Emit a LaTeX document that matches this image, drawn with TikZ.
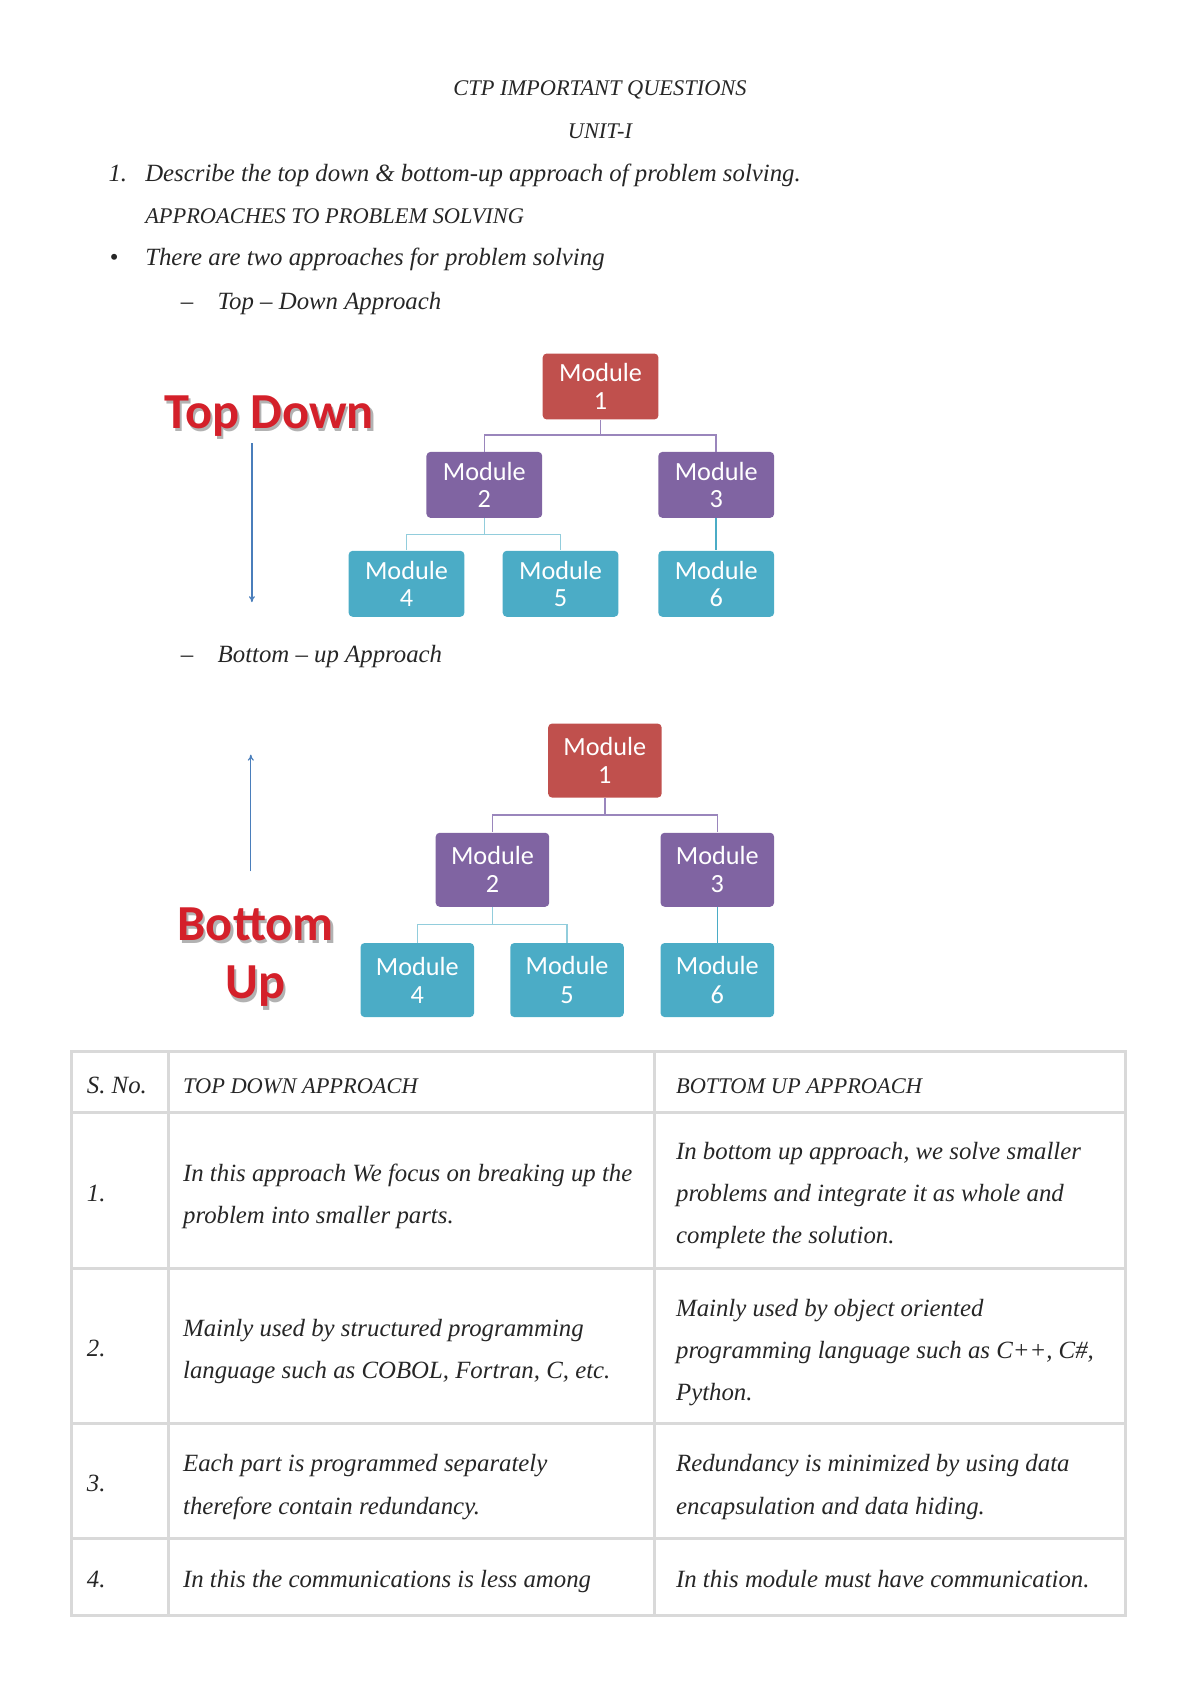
\documentclass[tikz,border=0pt]{standalone}
\usepackage{fontspec}
\setmainfont{Liberation Serif}
\newfontfamily\carlito{Carlito}
\usetikzlibrary{arrows.meta}
\definecolor{modred}{HTML}{C0504D}
\definecolor{modpurple}{HTML}{8064A2}
\definecolor{modcyan}{HTML}{4BACC6}
\definecolor{linkpurplec}{HTML}{9A86BC}
\definecolor{linkcyanc}{HTML}{92CDDC}
\definecolor{arrowblue}{HTML}{4A7EBB}
\definecolor{bigred}{HTML}{D4202A}
\definecolor{gridgray}{HTML}{D9D9D9}
\begin{document}
\begin{tikzpicture}[x=0.536pt,y=-0.536pt,
    doctext/.style={inner sep=0pt,text=black!85,font=\itshape\fontsize{12.3}{20.9}\selectfont},
    captext/.style={doctext,font=\itshape\fontsize{11.1}{20.9}\selectfont},
    modbox/.style={rounded corners=2pt,inner sep=0pt,align=center,text=white,
      minimum width=57.4pt,minimum height=32.7pt,font=\carlito\fontsize{13}{13.6}\selectfont},
    modboxb/.style={modbox,minimum width=56.3pt,minimum height=36.7pt,font=\carlito\fontsize{13}{14}\selectfont},
    bigword/.style={inner sep=0pt,text=bigred,font=\carlito\bfseries\fontsize{25}{29}\selectfont},
    linkpurple/.style={draw=linkpurplec,line width=0.8pt},
    linkcyan/.style={draw=linkcyanc,line width=0.8pt},
    linkcyandark/.style={draw=modcyan,line width=0.8pt},
    flowarrow/.style={draw=arrowblue,line width=0.6pt,-{To[length=3pt,width=3pt]}},
    tableline/.style={draw=gridgray,line width=1.5pt}]
    \useasboundingbox (0,0) rectangle (1110,1570.6);
    %% heading lines
    \node[captext,anchor=base] (title) at (555,88) {CTP IMPORTANT QUESTIONS};
    \node[captext,anchor=base] (unit) at (555,128) {UNIT-I};
    \node[doctext,anchor=base west] (qnum) at (100,168) {1.};
    \node[doctext,anchor=base west] (qtext) at (134,168) {Describe the top down \& bottom-up approach of problem solving.};
    \node[captext,anchor=base west] (approaches) at (134,207) {APPROACHES TO PROBLEM SOLVING};
    \node[doctext,anchor=base west] (bullet) at (101,246) {•};
    \node[doctext,anchor=base west] (twoways) at (134,246) {There are two approaches for problem solving};
    \node[doctext,anchor=base west] (dashtd) at (167,286) {–};
    \node[doctext,anchor=base west] (tdline) at (201,286) {Top – Down Approach};
    %% top down tree
    \node[bigword,anchor=base] (tdword) at (249,396)
        {\rlap{\raisebox{-1.6pt}{\kern1.1pt\color{black!30}Top Down}}Top Down};
    \coordinate (tdstart) at (233,410);
    \coordinate (tdend) at (233,557);
    \draw[flowarrow] (tdstart) -- (tdend);
    \node[modbox,fill=modred] (tdA) at (555.5,357.5) {Module\\1};
    \node[modbox,fill=modpurple] (tdB) at (448,448.5) {Module\\2};
    \node[modbox,fill=modpurple] (tdC) at (662.5,448.5) {Module\\3};
    \node[modbox,fill=modcyan] (tdD) at (376,540) {Module\\4};
    \node[modbox,fill=modcyan] (tdE) at (518.5,540) {Module\\5};
    \node[modbox,fill=modcyan] (tdF) at (662.5,540) {Module\\6};
    \draw[linkpurple] (tdA.south) -- ++(0,14) -| (tdB.north);
    \draw[linkpurple] (tdA.south) -- ++(0,14) -| (tdC.north);
    \draw[linkcyan] (tdB.south) -- ++(0,15) -| (tdD.north);
    \draw[linkcyan] (tdB.south) -- ++(0,15) -| (tdE.north);
    \draw[linkcyandark] (tdC.south) -- (tdF.north);
    %% bottom up tree
    \node[doctext,anchor=base west] (dashbu) at (167,613) {–};
    \node[doctext,anchor=base west] (buline) at (201,613) {Bottom – up Approach};
    \node[bigword,anchor=base] (buword) at (236.5,870)
        {\rlap{\raisebox{-1.6pt}{\kern1.1pt\color{black!30}Bottom}}Bottom};
    \node[bigword,anchor=base] (upword) at (236.5,924)
        {\rlap{\raisebox{-1.6pt}{\kern1.1pt\color{black!30}Up}}Up};
    \coordinate (bustart) at (232,806);
    \coordinate (buend) at (232,698);
    \draw[flowarrow] (bustart) -- (buend);
    \node[modboxb,fill=modred] (buA) at (559.5,703.5) {Module\\1};
    \node[modboxb,fill=modpurple] (buB) at (455.5,804.5) {Module\\2};
    \node[modboxb,fill=modpurple] (buC) at (663.5,804.5) {Module\\3};
    \node[modboxb,fill=modcyan] (buD) at (386,906.5) {Module\\4};
    \node[modboxb,fill=modcyan] (buE) at (524.5,906.5) {Module\\5};
    \node[modboxb,fill=modcyan] (buF) at (663.5,906.5) {Module\\6};
    \draw[linkpurple] (buA.south) -- ++(0,16) -| (buB.north);
    \draw[linkpurple] (buA.south) -- ++(0,16) -| (buC.north);
    \draw[linkcyan] (buB.south) -- ++(0,16) -| (buD.north);
    \draw[linkcyan] (buB.south) -- ++(0,16) -| (buE.north);
    \draw[linkcyandark] (buC.south) -- (buF.north);
    %% comparison table
    \draw[tableline] (66,973) rectangle (1041,1494);
    \draw[tableline] (156,973) -- (156,1494);
    \draw[tableline] (605,973) -- (605,1494);
    \foreach \rowy in {1029,1173,1317,1423}
        \draw[tableline] (66,\rowy) -- (1041,\rowy);
    \node[doctext,anchor=base west] (hno) at (80,1011) {S. No.};
    \node[captext,anchor=base west] (htd) at (169,1011) {TOP DOWN APPROACH};
    \node[captext,anchor=base west] (hbu) at (625,1011) {BOTTOM UP APPROACH};
    \node[doctext,anchor=base west] (rno1) at (80,1111) {1.};
    \node[doctext,anchor=west,align=left] (rtd1) at (169,1106.5) {In this approach We focus on breaking up the\\problem into smaller parts.};
    \node[doctext,anchor=west,align=left] (rbu1) at (625,1106) {In bottom up approach, we solve smaller\\problems and integrate it as whole and\\complete the solution.};
    \node[doctext,anchor=base west] (rno2) at (80,1255) {2.};
    \node[doctext,anchor=west,align=left] (rtd2) at (169,1250.5) {Mainly used by structured programming\\language such as COBOL, Fortran, C, etc.};
    \node[doctext,anchor=west,align=left] (rbu2) at (625,1251) {Mainly used by object oriented\\programming language such as C++, C\#,\\Python.};
    \node[doctext,anchor=base west] (rno3) at (80,1380) {3.};
    \node[doctext,anchor=west,align=left] (rtd3) at (169,1375.5) {Each part is programmed separately\\therefore contain redundancy.};
    \node[doctext,anchor=west,align=left] (rbu3) at (625,1375.5) {Redundancy is minimized by using data\\encapsulation and data hiding.};
    \node[doctext,anchor=base west] (rno4) at (80,1468) {4.};
    \node[doctext,anchor=base west] (rtd4) at (169,1468) {In this the communications is less among};
    \node[doctext,anchor=base west] (rbu4) at (625,1468) {In this module must have communication.};
\end{tikzpicture}
\end{document}
